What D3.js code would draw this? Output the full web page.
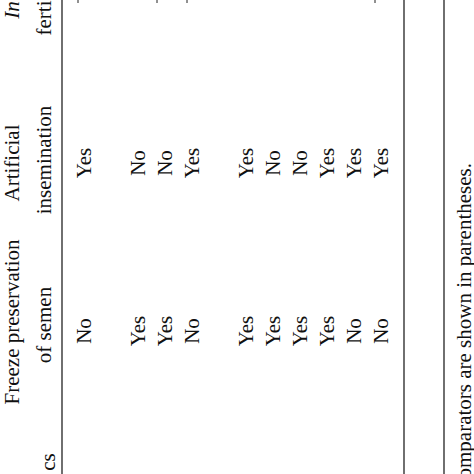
<!DOCTYPE html><html><head><meta charset="utf-8"><script src="https://cdn.jsdelivr.net/npm/d3@7"></script>
<style>body{margin:0;background:#fff}</style></head><body><svg id="c" width="474" height="474"></svg><script>
const rowSlots=[0,2,3,4,6,7,8,9,10,11];
const freeze=["No","Yes","Yes","No","Yes","Yes","Yes","Yes","No","No"];
const ai=["Yes","No","No","Yes","Yes","No","No","Yes","Yes","Yes"];
const svg=d3.select("#c");
const x=d3.scaleLinear().domain([0,11]).range([84,381]);
const F="'Liberation Serif','Times New Roman',serif";
function rt(px,py,s,anchor,size,italic){
  svg.append("text").attr("transform",`translate(${px},${py}) rotate(-90)`).attr("text-anchor",anchor||"middle")
  .attr("dominant-baseline","central").attr("font-family",F).attr("font-size",size||21).attr("font-style",italic?"italic":null).attr("fill","#111").text(s);
}
rt(12,322,"Freeze preservation");rt(44,325,"of semen");
rt(12,163,"Artificial");rt(44,160,"insemination");
rt(12,10,"In","middle",21,true);rt(44,18,"ferti");
rt(48,462,"cs");
rowSlots.forEach((r,i)=>{rt(x(r),331,freeze[i]);rt(x(r),163,ai[i]);});
rt(464,163,"omparators are shown in parentheses.","end");
[62,404,444].forEach(v=>svg.append("line").attr("x1",v).attr("x2",v).attr("y1",0).attr("y2",474).attr("stroke","#222").attr("stroke-width",1.3));
[78,157,187,375].forEach(v=>svg.append("line").attr("x1",v).attr("x2",v).attr("y1",0).attr("y2",3).attr("stroke","#222"));
</script></body></html>
